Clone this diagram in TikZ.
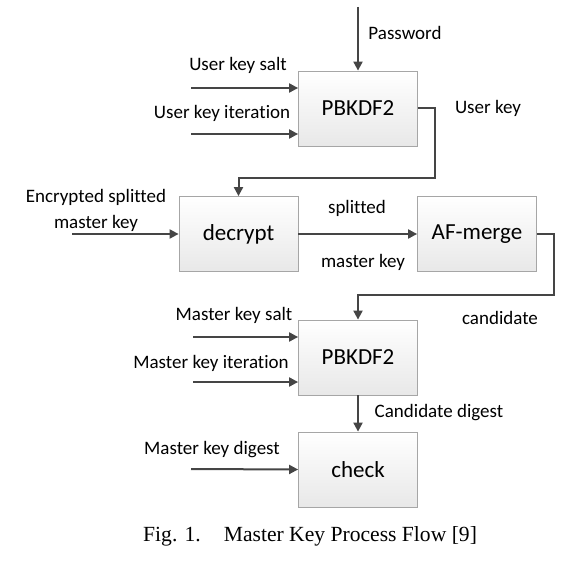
\documentclass[tikz,border=0pt]{standalone}
\usepackage{fontspec}
\setmainfont[Ligatures=NoCommon]{Carlito}
\newfontfamily\capfont{Liberation Serif}
\usetikzlibrary{arrows.meta}
\definecolor{darkline}{HTML}{454545}
\tikzset{block/.style={draw=gray!70,line width=0.8pt,top color=white,bottom color=gray!18,minimum width=119pt,minimum height=75pt,inner sep=0pt,font=\fontsize{23}{26}\selectfont},
         flow/.style={line width=2pt,draw=darkline,-{Triangle[length=9pt,width=9pt]}},
         lbl/.style={inner sep=0pt,font=\fontsize{19}{26}\selectfont}}

\begin{document}
\begin{tikzpicture}[x=1pt,y=-1pt]
                  \useasboundingbox (0,0) rectangle (588,588);
                  \node[block] (pbk1) at (358,108.5) {PBKDF2};
                  \node[block] (dec) at (238.5,234) {decrypt};
                  \node[block] (afm) at (477,234) {AF-merge};
                  \node[block] (pbk2) at (358,357.5) {PBKDF2};
                  \node[block] (chk) at (358,469.5) {check};
                  % free ends of the inputs
                  \coordinate (pw) at (358,7);
                  \coordinate (usalt) at (191,88);
                  \coordinate (uiter) at (191,134);
                  \coordinate (esmk) at (72,234);
                  \coordinate (msalt) at (193,337);
                  \coordinate (miter) at (193,382);
                  \coordinate (mdig) at (191,469);
                  \coordinate (uk) at (435,178);
                  \coordinate (cd) at (554,295);
                  \draw[flow] (pw) -- (pbk1.north);
                  \draw[flow] (usalt) -- (usalt -| pbk1.west);
                  \draw[flow] (uiter) -- (uiter -| pbk1.west);
                  \draw[flow] (pbk1.east) -| (uk) -| (dec.north);
                  \draw[flow] (esmk) -- (dec.west);
                  \draw[flow] (dec.east) -- (afm.west);
                  \draw[flow] (afm.east) -| (cd) -| (pbk2.north);
                  \draw[flow] (msalt) -- (msalt -| pbk2.west);
                  \draw[flow] (miter) -- (miter -| pbk2.west);
                  \draw[flow] (pbk2.south) -- (chk.north);
                  \draw[flow] (mdig) -- (chk.west);
                  % labels
                  \node[lbl] (lpw) at (405,33) {Password};
                  \node[lbl] (lusalt) at (238,65) {User key salt};
                  \node[lbl] (luiter) at (222,113) {User key iteration};
                  \node[lbl] (luk) at (488,108) {User key};
                  \node[lbl,align=center] (lesmk) at (96,210) {Encrypted splitted\\master key};
                  \node[lbl] (lspl) at (357,208) {splitted};
                  \node[lbl] (lmk) at (363,262) {master key};
                  \node[lbl] (lcand) at (500,318) {candidate};
                  \node[lbl] (lmsalt) at (234,315) {Master key salt};
                  \node[lbl] (lmiter) at (211,363) {Master key iteration};
                  \node[lbl] (lcdig) at (439,413) {Candidate digest};
                  \node[lbl] (lmdig) at (212,450) {Master key digest};
                  \node[anchor=west,inner sep=0pt,font=\capfont\fontsize{21.6}{24}\selectfont] (cap) at (143,536) {Fig. 1.\hspace{23pt}Master Key Process Flow [9]};
              \end{tikzpicture}
\end{document}
